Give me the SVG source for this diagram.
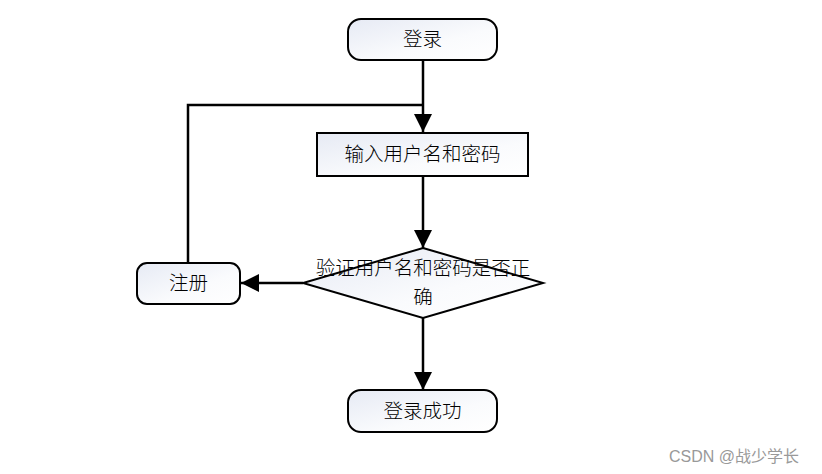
<svg xmlns="http://www.w3.org/2000/svg" width="822" height="474" viewBox="0 0 822 474">
<style>
.shape{stroke:#000;stroke-width:2;fill:url(#g)}
.t{font-family:"Noto Sans CJK SC","Liberation Serif",serif;font-size:19.5px;font-weight:300;fill:#000;text-anchor:middle}
.c{stroke:#000;stroke-width:2.5;fill:none}
.wm{font-family:"Liberation Sans","Noto Sans CJK SC",sans-serif;font-size:16px;fill:#999}
</style>
<defs>
<linearGradient id="g" x1="0" y1="0" x2="1" y2="1">
<stop offset="0" stop-color="#e6eaf4"/>
<stop offset="0.6" stop-color="#fafbfd"/>
<stop offset="1" stop-color="#ffffff"/>
</linearGradient>
<marker id="a" markerWidth="18" markerHeight="18" refX="18" refY="9" orient="auto" markerUnits="userSpaceOnUse">
<path d="M0,0 L18,9 L0,18 Z" fill="#000"/>
</marker>
</defs>
<rect width="822" height="474" fill="#fff"/>
<g id="connectors">
<line class="c" x1="423" y1="60" x2="423" y2="132" marker-end="url(#a)"/>
<polyline class="c" points="188,263 188,105 423,105"/>
<line class="c" x1="423" y1="176" x2="423" y2="248" marker-end="url(#a)"/>
<line class="c" x1="303" y1="283" x2="241" y2="283" marker-end="url(#a)"/>
<line class="c" x1="423" y1="318" x2="423" y2="390" marker-end="url(#a)"/>
</g>
<g id="login">
<rect class="shape" x="348" y="19" width="149" height="41" rx="13"/>
<text class="t" x="422.5" y="46">登录</text>
</g>
<g id="input">
<rect class="shape" x="317" y="133" width="211" height="43"/>
<text class="t" x="422.5" y="161">输入用户名和密码</text>
</g>
<g id="verify">
<polygon class="shape" points="423,248 543,283 423,318 303,283"/>
<text class="t" x="423" y="275">验证用户名和密码是否正</text>
<text class="t" x="423" y="304">确</text>
</g>
<g id="register">
<rect class="shape" x="137" y="263" width="103" height="41" rx="10"/>
<text class="t" x="188.5" y="290">注册</text>
</g>
<g id="success">
<rect class="shape" x="348" y="390" width="149" height="42" rx="13"/>
<text class="t" x="422.5" y="418">登录成功</text>
</g>
<text class="wm" x="669" y="462">CSDN @战少学长</text>
</svg>
